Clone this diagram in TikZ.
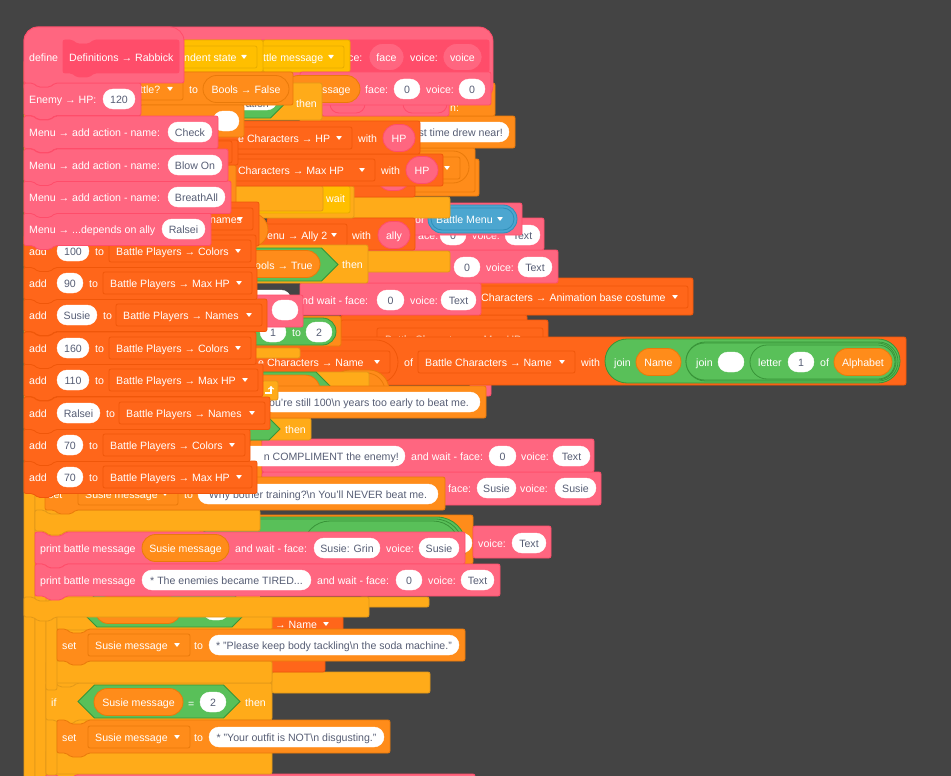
\documentclass[tikz,border=0pt]{standalone}
\usepackage{fontspec}
\setmainfont{Liberation Sans}
\usepackage{tikz}
\definecolor{bgdark}{HTML}{444444}
\definecolor{pinkfill}{HTML}{FF6680}
\definecolor{pinkline}{HTML}{FF4D6A}
\definecolor{orangefill}{HTML}{FF8C1A}
\definecolor{orangeline}{HTML}{DB6E00}
\definecolor{deepfill}{HTML}{FF661A}
\definecolor{deepline}{HTML}{E64D00}
\definecolor{ctrlfill}{HTML}{FFAB19}
\definecolor{ctrlline}{HTML}{CF8B17}
\definecolor{yellowfill}{HTML}{FFBF00}
\definecolor{yellowline}{HTML}{E6AC00}
\definecolor{greenfill}{HTML}{59C059}
\definecolor{greenline}{HTML}{389438}
\definecolor{bluefill}{HTML}{4CA6D0}
\definecolor{blueline}{HTML}{2E8EB8}
\definecolor{greytext}{HTML}{575E75}
\tikzset{
  pinkblk/.style={fill=pinkfill,draw=pinkline,line width=.8pt},
  innerblk/.style={fill=pinkline,draw=pinkline,line width=.8pt},
  orangeblk/.style={fill=orangefill,draw=orangeline!60!orangefill,line width=.8pt},
  deepblk/.style={fill=deepfill,draw=deepline!60!deepfill,line width=.8pt},
  ctrlblk/.style={fill=ctrlfill,draw=ctrlline!60!ctrlfill,line width=.8pt},
  yellowblk/.style={fill=yellowfill,draw=yellowline,line width=.8pt},
  greenblk/.style={fill=greenfill,draw=greenline,line width=.8pt},
  blueblk/.style={fill=bluefill,draw=blueline,line width=.8pt},
  whiteblk/.style={fill=white,draw=white},
  blktext/.style={text=white,inner sep=0pt,anchor=west,yshift=-.8pt,text height=7.5pt,text depth=0pt,font=\fontsize{10.6}{12}\selectfont},
  pilltext/.style={text=greytext,inner sep=0pt,yshift=-.8pt,text height=7.5pt,text depth=0pt,font=\fontsize{10.6}{12}\selectfont},
  reptext/.style={text=white,inner sep=0pt,yshift=-.8pt,text height=7.5pt,text depth=0pt,font=\fontsize{10.6}{12}\selectfont},
}
\newcounter{nd}
% stack block with notch and bump
\newcommand{\stackblk}[5]{\draw[#1,rounded corners=2pt] (#2,#3) -- (#2+9,#3) -- (#2+14,#3+4) -- (#2+26,#3+4) -- (#2+31,#3) -- (#4,#3) -- (#4,#5) -- (#2+31,#5) -- (#2+26,#5+4) -- (#2+14,#5+4) -- (#2+9,#5) -- (#2,#5) -- cycle;}
\newcommand{\barblk}[5]{\draw[#1,rounded corners=2pt] (#2,#3) rectangle (#4,#5);}
\newcommand{\ovalblk}[5]{\pgfmathsetmacro\ovr{((#5)-(#3))/2}\draw[#1,rounded corners=\ovr pt] (#2,#3) rectangle (#4,#5);}
\newcommand{\hexblk}[5]{\pgfmathsetmacro\hxm{((#3)+(#5))/2}\pgfmathsetmacro\hxd{((#5)-(#3))/2}\draw[#1] (#2,\hxm) -- (#2+\hxd,#3) -- (#4-\hxd,#3) -- (#4,\hxm) -- (#4-\hxd,#5) -- (#2+\hxd,#5) -- cycle;}
\newcommand{\lbl}[3]{\stepcounter{nd}\node[blktext] (n\arabic{nd}) at (#1,#2) {#3};}
\newcommand{\pill}[4]{\pgfmathsetmacro\pmid{((#1)+(#2))/2}\ovalblk{whiteblk}{#1}{#3-10}{#2}{#3+10}\stepcounter{nd}\node[pilltext] (n\arabic{nd}) at (\pmid,#3) {#4};}
\newcommand{\rep}[5]{\pgfmathsetmacro\pmid{((#2)+(#3))/2}\ovalblk{#1}{#2}{#4-13.5}{#3}{#4+13.5}\stepcounter{nd}\node[reptext] (n\arabic{nd}) at (\pmid,#4) {#5};}
\newcommand{\dropbox}[5]{\barblk{#1}{#2}{#4-11}{#3}{#4+11}\lbl{#2+7}{#4}{#5}\fill[white,rounded corners=.6pt] (#3-16,#4-2) -- (#3-10,#4-2) -- (#3-13,#4+2) -- cycle;}
\newcommand{\addblk}[6]{\stackblk{deepblk}{24}{#1}{#2}{#1+32.5}\lbl{29}{#1+16}{add}\pill{57}{#3}{#1+16}{#4}\lbl{#3+6}{#1+16}{to}\dropbox{deepblk}{#5}{#2-5}{#1+16}{#6}}
\newcommand{\menublk}[6]{\stackblk{pinkblk}{24}{#1}{#2}{#1+32.5}\lbl{29}{#1+16}{#3}\pill{#4}{#5}{#1+16}{#6}}
\begin{document}
\begin{tikzpicture}[x=1pt,y=-1pt]
  \useasboundingbox (0,0) rectangle (951,776);
  \fill[bgdark] (0,0) rectangle (951,776);
  \clip (0,0) rectangle (951,776);
  % left columns
  \fill[ctrlfill] (24,490) rectangle (260,600);
  \fill[ctrlfill] (24,600) rectangle (272,790);
  \barblk{ctrlblk}{24}{60}{35}{790}
  \barblk{ctrlblk}{35}{490}{46}{790}
  % bottom if
  \stackblk{pinkblk}{46}{774}{475}{800}
  \barblk{ctrlblk}{46}{750}{272}{774}
  \barblk{ctrlblk}{46}{683}{57}{775}
  \stackblk{ctrlblk}{46}{683}{272}{720}
  \lbl{51}{702}{if}
  \hexblk{greenblk}{78}{685}{240}{718}
  \rep{orangeblk}{94}{183}{702}{Susie message}
  \lbl{188}{703}{=}
  \pill{200}{226}{702}{2}
  \lbl{245}{702}{then}
  \stackblk{orangeblk}{57}{720}{390}{753}
  \lbl{62}{737}{set}
  \dropbox{orangeblk}{88}{190}{737}{Susie message}
  \lbl{194}{737}{to}
  \pill{209}{384}{737}{* "Your outfit is NOT\textbackslash n disgusting."}
  % previous if arm
  \barblk{ctrlblk}{272}{672}{430}{693}
  \barblk{deepblk}{270}{616}{343}{640}
  \lbl{275}{624}{→ Name}
  \fill[white,rounded corners=.6pt] (323,622) -- (329,622) -- (326,626) -- cycle;
  \barblk{deepblk}{270}{650}{325}{672}
  \barblk{ctrlblk}{46}{661}{272}{683}
  \barblk{ctrlblk}{46}{610}{57}{690}
  \barblk{ctrlblk}{57}{610}{272}{630}
  \hexblk{greenblk}{80}{593}{249}{627}
  \rep{orangeblk}{95}{181}{610}{}
  \pill{203}{229}{610}{}
  \stackblk{orangeblk}{57}{629}{465}{661}
  \lbl{62}{645}{set}
  \dropbox{orangeblk}{88}{190}{645}{Susie message}
  \lbl{194}{645}{to}
  \pill{209}{459}{645}{* "Please keep body tackling\textbackslash n the soda machine."}
  \barblk{ctrlblk}{360}{597}{429}{607}
  \stackblk{ctrlblk}{24}{597}{369}{617}
  % behind the print blocks
  \barblk{orangeblk}{200}{515}{473}{564}
  \ovalblk{greenblk}{200}{517}{466}{575}
  \ovalblk{greenblk}{200}{519}{463}{575}
  \ovalblk{greenblk}{303}{521}{460}{575}
  \barblk{pinkblk}{473}{526}{551}{558}
  \pill{440}{472}{543}{}
  \lbl{478}{543}{voice:}
  \pill{512}{546}{543}{Text}
  \stackblk{ctrlblk}{35}{510}{260}{531}
  % print blocks
  \stackblk{pinkblk}{35}{532}{465}{564}
  \lbl{40}{548}{print battle message}
  \rep{orangeblk}{142}{229}{548}{Susie message}
  \lbl{235}{548}{and wait - face:}
  \pill{314}{380}{548}{Susie: Grin}
  \lbl{386}{548}{voice:}
  \pill{419}{459}{548}{Susie}
  \stackblk{pinkblk}{35}{564}{500}{596}
  \lbl{40}{580}{print battle message}
  \pill{142}{311}{580}{* The enemies became TIRED...}
  \lbl{317}{580}{and wait - face:}
  \pill{396}{422}{580}{0}
  \lbl{428}{580}{voice:}
  \pill{461}{494}{580}{Text}
  % middle messages
  \barblk{orangeblk}{250}{440}{262}{478}
  \barblk{pinkblk}{262}{472}{601}{505}
  \lbl{448}{488}{face:}
  \pill{477}{516}{488}{Susie}
  \lbl{520}{488}{voice:}
  \pill{555}{596}{488}{Susie}
  \barblk{pinkblk}{262}{439}{594}{472}
  \pill{200}{405}{456}{}
  \node[pilltext,anchor=east] (compliment) at (399,456) {n COMPLIMENT the enemy!};
  \lbl{411}{456}{and wait - face:}
  \pill{489}{516}{456}{0}
  \lbl{521}{456}{voice:}
  \pill{553}{590}{456}{Text}
  \stackblk{orangeblk}{45}{477}{445}{510}
  \lbl{48}{494}{set}
  \dropbox{orangeblk}{78}{178}{494}{Susie message}
  \lbl{184}{494}{to}
  \pill{198}{438}{494}{Why bother training?\textbackslash n You'll NEVER beat me.}
  \barblk{ctrlblk}{250}{418}{311}{440}
  \draw[greenblk] (250,418) -- (269,418) -- (280,429) -- (269,440) -- (250,440);
  \lbl{285}{429}{then}
  \barblk{pinkblk}{470}{380}{491}{396}
  % long set with join
  \barblk{deepblk}{341}{315}{527}{325}
  \barblk{deepblk}{341}{320}{548}{345}
  \barblk{deepblk}{377}{328}{543}{350}
  \lbl{385}{339}{Battle Characters → Max HP}
  \barblk{deepblk}{200}{337}{906}{385}
  \ovalblk{deepblk}{240}{340}{398}{384}
  \dropbox{deepblk}{225}{390}{362}{}
  \lbl{258}{362}{e Characters → Name}
  \lbl{404}{362}{of}
  \dropbox{deepblk}{418}{575}{362}{Battle Characters → Name}
  \lbl{581}{362}{with}
  \ovalblk{greenblk}{605}{339}{900}{383}
  \lbl{614}{362}{join}
  \rep{orangeblk}{636}{681}{362}{Name}
  \ovalblk{greenblk}{686}{342}{898}{381}
  \ovalblk{greenblk}{686}{343}{896}{380}
  \lbl{696}{362}{join}
  \pill{718}{744}{362}{}
  \ovalblk{greenblk}{750}{345}{895}{379}
  \lbl{758}{362}{letter}
  \pill{788}{814}{362}{1}
  \lbl{820}{362}{of}
  \rep{orangeblk}{834}{892}{362}{Alphabet}
  \barblk{orangeblk}{240}{316}{341}{346}
  \ovalblk{greenblk}{230}{318}{336}{345}
  \pill{260}{286}{332}{1}
  \lbl{292}{332}{to}
  \pill{306}{332}{332}{2}
  \barblk{ctrlblk}{250}{348}{300}{358}
  % small if under the long set
  \ovalblk{orangeblk}{330}{370}{389}{410}
  \ovalblk{orangeblk}{340}{373}{385}{410}
  \barblk{ctrlblk}{255}{372}{369}{390}
  \hexblk{greenblk}{220}{372}{335}{410}
  \ovalblk{orangeblk}{230}{375}{320}{405}
  \barblk{orangeblk}{262}{386}{486}{418}
  \pill{262}{480}{402}{}
  \node[pilltext,anchor=west] (still) at (269,402) {ou're still 100\textbackslash n years too early to beat me.};
  \barblk{ctrlblk}{262}{381}{278}{400}
  \draw[white,line width=1.3pt,->] (265,393) -- (271,393) -- (271,386) ;
  % right stair
  \barblk{deepblk}{470}{278}{693}{315}
  \dropbox{deepblk}{470}{688}{297}{}
  \lbl{481}{297}{Characters → Animation base costume}
  \barblk{pinkblk}{300}{283}{481}{315}
  \pill{235}{291}{300}{}
  \lbl{302}{300}{nd wait - face:}
  \pill{377}{404}{300}{0}
  \lbl{410}{300}{voice:}
  \pill{441}{476}{300}{Text}
  \barblk{pinkblk}{255}{295}{303}{327}
  \pill{272}{298}{310}{}
  \barblk{pinkblk}{300}{250}{558}{283}
  \pill{454}{480}{267}{0}
  \lbl{486}{267}{voice:}
  \pill{518}{552}{267}{Text}
  \barblk{pinkblk}{300}{218}{544}{250}
  \lbl{418}{235}{ace:}
  \pill{440}{466}{235}{0}
  \lbl{472}{235}{voice:}
  \pill{505}{540}{235}{Text}
  \barblk{pinkblk}{400}{203}{522}{235}
  \lbl{415}{219}{or}
  \ovalblk{blueblk}{428}{205}{517}{233}
  \ovalblk{blueblk}{431}{208}{514}{230}
  \lbl{436}{219}{Battle Menu}
  \fill[white,rounded corners=.6pt] (497,217) -- (503,217) -- (500,221) -- cycle;
  \barblk{ctrlblk}{330}{197}{450}{218}
  \barblk{ctrlblk}{360}{251}{450}{272}
  \barblk{deepblk}{267}{218}{415}{250}
  \dropbox{deepblk}{250}{347}{235}{}
  \lbl{267}{235}{enu → Ally 2}
  \lbl{352}{235}{with}
  \rep{pinkblk}{378}{410}{235}{ally}
  \draw[greenblk] (256,248) rectangle (320,254);
  \barblk{ctrlblk}{250}{245}{368}{283}
  \hexblk{greenblk}{220}{248}{338}{281}
  \rep{orangeblk}{220}{320}{264}{}
  \lbl{255}{265}{ools → True}
  \lbl{342}{264}{then}
  % upper middle
  \barblk{orangeblk}{350}{159}{479}{196}
  \barblk{orangeblk}{350}{148}{475}{192}
  \ovalblk{orangeblk}{350}{151}{469}{183}
  \dropbox{orangeblk}{350}{460}{168}{}
  \barblk{deepblk}{350}{185}{415}{197}
  \rep{pinkblk}{377}{410}{177}{}
  \draw[greenblk] (270,210) rectangle (335,216);
  \barblk{ctrlblk}{240}{186}{354}{218}
  \barblk{yellowblk}{240}{186}{350}{213}
  \barblk{ctrlblk}{225}{186}{323}{211}
  \lbl{326}{198}{wait}
  \barblk{deepblk}{200}{154}{443}{186}
  \dropbox{deepblk}{210}{375}{170}{}
  \lbl{229}{170}{e Characters → Max HP}
  \lbl{381}{170}{with}
  \rep{pinkblk}{406}{438}{170}{HP}
  \barblk{orangeblk}{300}{116}{515}{148}
  \pill{300}{509}{132}{}
  \node[pilltext,anchor=east] (near) at (503,132) {st time drew near!};
  \barblk{deepblk}{200}{121}{420}{154}
  \dropbox{deepblk}{210}{352}{138}{}
  \lbl{238}{138}{e Characters → HP}
  \lbl{358}{138}{with}
  \rep{pinkblk}{383}{415}{138}{HP}
  % top row
  \barblk{orangeblk}{400}{83}{495}{116}
  \lbl{450}{107}{n:}
  \barblk{pinkblk}{322}{100}{449}{116}
  \ovalblk{pinkblk}{330}{95}{365}{113}
  \ovalblk{pinkblk}{403}{95}{447}{113}
  \draw[pinkblk,rounded corners=14pt] (24,100) -- (24,27) -- (493,27) -- (493,100) -- cycle;
  \barblk{innerblk}{40}{40}{489}{72}
  \lbl{348}{57}{ce:}
  \rep{pinkblk}{369}{404}{57}{face}
  \lbl{410}{57}{voice:}
  \rep{pinkblk}{443}{482}{57}{voice}
  \barblk{yellowblk}{263}{40}{350}{72}
  \dropbox{yellowblk}{256}{344}{57}{ttle message}
  \barblk{yellowblk}{170}{40}{263}{72}
  \dropbox{yellowblk}{177}{257}{57}{ndent state}
  \barblk{pinkblk}{300}{72}{491}{105}
  \rep{orangeblk}{285}{360}{89}{}
  \lbl{322}{89}{ssage}
  \lbl{365}{89}{face:}
  \pill{394}{420}{89}{0}
  \lbl{426}{89}{voice:}
  \pill{459}{485}{89}{0}
  \barblk{ctrlblk}{180}{83}{322}{120}
  \hexblk{greenblk}{190}{83}{288}{118}
  \pill{190}{277}{100}{}
  \node[pilltext,anchor=east] (ation) at (269,103) {ation};
  \lbl{296}{103}{then}
  \barblk{orangeblk}{120}{72}{293}{105}
  \dropbox{orangeblk}{100}{183}{89}{}
  \lbl{140}{89}{ttle?}
  \lbl{189}{89}{to}
  \rep{orangeblk}{203}{289}{89}{Bools → False}
  % left side stubs
  \barblk{orangeblk}{140}{105}{244}{137}
  \pill{213}{239}{121}{}
  \barblk{orangeblk}{150}{165}{236}{205}
  \barblk{deepblk}{150}{140}{238}{165}
  \dropbox{deepblk}{150}{232}{152}{}
  \ovalblk{orangeblk}{200}{213}{268}{247}
  \barblk{deepblk}{150}{202}{259}{246}
  \dropbox{deepblk}{170}{253}{219}{}
  \lbl{210}{219}{names}
  % add list
  \addblk{461}{257}{83}{70}{103}{Battle Players → Max HP}
  \addblk{429}{250}{83}{70}{103}{Battle Players → Colors}
  \addblk{397}{270}{100}{Ralsei}{119}{Battle Players → Names}
  \addblk{364}{263}{89}{110}{109}{Battle Players → Max HP}
  \addblk{332}{256}{89}{160}{109}{Battle Players → Colors}
  \addblk{299}{267}{97}{Susie}{116}{Battle Players → Names}
  \addblk{267}{257}{83}{90}{103}{Battle Players → Max HP}
  \addblk{235}{256}{89}{100}{109}{Battle Players → Colors}
  % definition blocks
  \menublk{213}{211}{Menu → ...depends on ally}{162}{205}{Ralsei}
  \menublk{181}{231}{Menu → add action - name:}{168}{225}{BreathAll}
  \menublk{149}{228}{Menu → add action - name:}{168}{222}{Blow On}
  \menublk{116}{218}{Menu → add action - name:}{168}{212}{Check}
  \menublk{83}{141}{Enemy → HP:}{103}{135}{120}
  \draw[pinkblk] (24,83) [rounded corners=14pt] -- (24,27) -- (184,27) [rounded corners=2pt] -- (184,83) -- (55,83) -- (50,87) -- (38,87) -- (33,83) -- cycle;
  \lbl{29}{57}{define}
  \stackblk{innerblk}{63}{40}{179}{73}
  \lbl{69}{57}{Definitions → Rabbick}
\end{tikzpicture}
\end{document}
